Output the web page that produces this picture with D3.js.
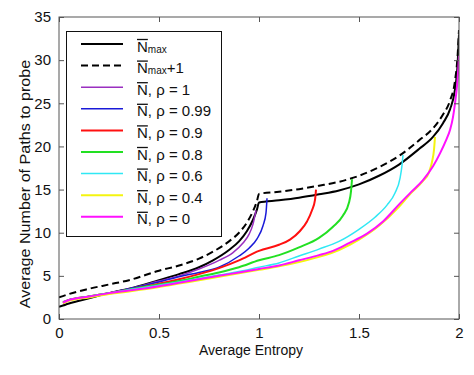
<!DOCTYPE html>
<html>
<head>
<meta charset="utf-8">
<script src="https://cdn.jsdelivr.net/npm/d3@7"></script>
<style>
  body { margin: 0; background: #fff; }
  svg { display: block; font-family: "Liberation Sans", Arial, sans-serif; }
</style>
</head>
<body>
<div class="container"></div>
<script>
// Nmax and Nmax+1 share the same entropy grid
const xMax = [0, 0.05, 0.15, 0.25, 0.35, 0.5, 0.6, 0.7, 0.77, 0.85, 0.9, 0.94, 0.97, 0.99, 1.0, 1.1, 1.2, 1.3, 1.4, 1.5, 1.6, 1.7, 1.8, 1.87, 1.92, 1.955, 1.98, 1.993, 2.0];
const yMax = [1.4, 1.8, 2.4, 3.0, 3.5, 4.5, 5.2, 6.0, 6.8, 8.0, 9.0, 10.2, 11.5, 12.7, 13.5, 13.75, 14.05, 14.45, 14.9, 15.6, 16.6, 17.9, 19.7, 21.1, 22.7, 24.3, 26.6, 29.5, 33];
const yMaxPlus1 = [2.5, 2.9, 3.5, 4.0, 4.5, 5.6, 6.2, 7.0, 7.8, 9.0, 10.0, 11.2, 12.5, 13.7, 14.5, 14.75, 15.05, 15.45, 15.9, 16.6, 17.6, 18.9, 20.7, 22.1, 23.7, 25.3, 27.6, 30.5, 33.5];

const xRho1 = [0.02, 0.05, 0.15, 0.25, 0.35, 0.5, 0.6, 0.7, 0.8, 0.87, 0.92, 0.95, 0.97, 0.985];
const yRho1 = [2.0, 2.2, 2.6, 3.0, 3.5, 4.4, 5.0, 5.8, 6.8, 7.7, 8.8, 9.8, 11.0, 12.6];

const xRho099 = [0.02, 0.05, 0.15, 0.25, 0.35, 0.5, 0.6, 0.7, 0.8, 0.9, 0.95, 0.99, 1.02, 1.035, 1.04];
const yRho099 = [1.9, 2.2, 2.6, 3.0, 3.5, 4.3, 4.9, 5.4, 6.0, 7.3, 8.2, 9.3, 10.8, 12.3, 14.0];

const xRho09 = [0.02, 0.05, 0.15, 0.25, 0.35, 0.5, 0.6, 0.7, 0.8, 0.9, 1.0, 1.1, 1.155, 1.205, 1.24, 1.265, 1.28, 1.285];
const yRho09 = [1.9, 2.2, 2.6, 3.0, 3.4, 4.1, 4.6, 5.2, 5.9, 6.8, 7.9, 8.6, 9.2, 10.2, 11.3, 12.6, 13.8, 15.0];

const xRho08 = [0.02, 0.05, 0.15, 0.25, 0.35, 0.5, 0.6, 0.7, 0.8, 0.9, 1.0, 1.1, 1.2, 1.3, 1.37, 1.42, 1.45, 1.46, 1.465];
const yRho08 = [1.9, 2.2, 2.6, 3.0, 3.4, 4.0, 4.4, 4.9, 5.4, 6.0, 6.8, 7.4, 8.3, 9.4, 10.7, 12.0, 13.5, 14.8, 16.2];

const xRho06 = [0.02, 0.05, 0.15, 0.25, 0.35, 0.5, 0.6, 0.7, 0.8, 0.9, 1.0, 1.1, 1.2, 1.3, 1.4, 1.5, 1.58, 1.64, 1.68, 1.705, 1.715, 1.72];
const yRho06 = [1.9, 2.2, 2.6, 3.0, 3.4, 3.9, 4.3, 4.7, 5.1, 5.5, 6.0, 6.5, 7.3, 8.1, 9.0, 10.4, 11.8, 13.2, 14.6, 16.3, 17.8, 19.0];

const xRho04 = [0.02, 0.05, 0.15, 0.25, 0.35, 0.5, 0.6, 0.7, 0.8, 0.9, 1.0, 1.1, 1.2, 1.3, 1.4, 1.5, 1.6, 1.7, 1.76, 1.82, 1.85, 1.865, 1.875, 1.88];
const yRho04 = [1.8, 2.1, 2.5, 2.9, 3.2, 3.7, 4.1, 4.5, 4.9, 5.3, 5.7, 6.1, 6.6, 7.2, 8.0, 9.2, 10.8, 13.0, 14.6, 16.0, 17.0, 18.2, 19.6, 21.1];

const xRho0 = [0.02, 0.05, 0.15, 0.25, 0.35, 0.5, 0.6, 0.7, 0.8, 0.9, 1.0, 1.1, 1.2, 1.3, 1.37, 1.45, 1.54, 1.62, 1.705, 1.76, 1.82, 1.87, 1.905, 1.935, 1.955, 1.97, 1.98, 1.99, 1.997, 2.0];
const yRho0 = [1.9, 2.2, 2.6, 3.0, 3.3, 3.8, 4.2, 4.6, 5.0, 5.4, 5.8, 6.2, 6.8, 7.4, 7.9, 8.8, 9.9, 11.3, 13.4, 14.7, 16.1, 17.7, 19.2, 20.7, 21.9, 23.4, 25.0, 27.0, 29.2, 30.5];

const xTicks = [0, 0.5, 1, 1.5, 2];
const yTicks = [0, 5, 10, 15, 20, 25, 30, 35];

// legend label = "N" with overbar + optional subscript + tail
const series = [
  { x: xMax, y: yMax, color: "#000", width: 2, dash: null, sub: "max", tail: "" },
  { x: xMax, y: yMaxPlus1, color: "#000", width: 2, dash: "7,4", sub: "max", tail: "+1" },
  { x: xRho1, y: yRho1, color: "#9a2fc0", width: 1.5, dash: null, sub: "", tail: ", ρ = 1" },
  { x: xRho099, y: yRho099, color: "#1a1ad8", width: 1.5, dash: null, sub: "", tail: ", ρ = 0.99" },
  { x: xRho09, y: yRho09, color: "#ff1010", width: 2, dash: null, sub: "", tail: ", ρ = 0.9" },
  { x: xRho08, y: yRho08, color: "#22e022", width: 2, dash: null, sub: "", tail: ", ρ = 0.8" },
  { x: xRho06, y: yRho06, color: "#30e8f4", width: 1.5, dash: null, sub: "", tail: ", ρ = 0.6" },
  { x: xRho04, y: yRho04, color: "#f4f410", width: 2, dash: null, sub: "", tail: ", ρ = 0.4" },
  { x: xRho0, y: yRho0, color: "#ff10ff", width: 2, dash: null, sub: "", tail: ", ρ = 0" }
];

const width = 474, height = 375;
const m = { left: 59, right: 459, top: 17, bottom: 319 };

const svg = d3.select(".container").append("svg")
  .attr("width", width)
  .attr("height", height);

const x = d3.scaleLinear().domain([0, 2]).range([m.left, m.right]);
const y = d3.scaleLinear().domain([0, 35]).range([m.bottom, m.top]);

// curves
const line = d3.line()
  .x(d => x(d[0]))
  .y(d => y(d[1]))
  .curve(d3.curveMonotoneX);

svg.append("defs").append("clipPath").attr("id", "plotclip")
  .append("rect").attr("x", m.left).attr("y", m.top)
  .attr("width", m.right - m.left).attr("height", m.bottom - m.top);

const plot = svg.append("g").attr("clip-path", "url(#plotclip)");
series.forEach(s => {
  plot.append("path")
    .attr("d", line(s.x.map((v, i) => [v, s.y[i]])))
    .attr("fill", "none")
    .attr("stroke", s.color)
    .attr("stroke-width", s.width)
    .attr("stroke-dasharray", s.dash)
    .attr("stroke-linejoin", "round");
});

// axes, ticks pointing inward on all four sides
const axisColor = "#555";
function styleAxis(g) {
  g.selectAll(".domain").remove();
  g.selectAll(".tick line").attr("stroke", axisColor);
  g.selectAll(".tick text").attr("fill", "#111").attr("font-size", 15)
    .attr("font-family", "'Liberation Sans', Arial, sans-serif");
}

svg.append("g").attr("transform", `translate(0,${m.bottom})`)
  .call(d3.axisBottom(x).tickValues(xTicks).tickFormat(d3.format("")).tickSizeInner(-5).tickSizeOuter(0).tickPadding(8))
  .call(styleAxis);
svg.append("g").attr("transform", `translate(0,${m.top})`)
  .call(d3.axisTop(x).tickValues(xTicks).tickFormat("").tickSizeInner(-5).tickSizeOuter(0))
  .call(styleAxis);
svg.append("g").attr("transform", `translate(${m.left},0)`)
  .call(d3.axisLeft(y).tickValues(yTicks).tickSizeInner(-5).tickSizeOuter(0).tickPadding(8))
  .call(styleAxis);
svg.append("g").attr("transform", `translate(${m.right},0)`)
  .call(d3.axisRight(y).tickValues(yTicks).tickFormat("").tickSizeInner(-5).tickSizeOuter(0))
  .call(styleAxis);

svg.append("rect")
  .attr("x", m.left).attr("y", m.top)
  .attr("width", m.right - m.left).attr("height", m.bottom - m.top)
  .attr("fill", "none").attr("stroke", axisColor).attr("stroke-width", 1);

// axis titles
svg.append("text")
  .attr("x", 251).attr("y", 355)
  .attr("text-anchor", "middle")
  .attr("font-size", 14)
  .attr("fill", "#111")
  .text("Average Entropy");

svg.append("text")
  .attr("transform", "translate(30,184) rotate(-90) scale(1.15,1)")
  .attr("text-anchor", "middle")
  .attr("font-size", 14)
  .attr("fill", "#111")
  .text("Average Number of Paths to probe");

// legend
const legend = svg.append("g");
legend.append("rect")
  .attr("x", 66.5).attr("y", 31.5)
  .attr("width", 155).attr("height", 205)
  .attr("fill", "#fff").attr("stroke", "#111").attr("stroke-width", 1);

series.forEach((s, i) => {
  const ry = 44 + i * 21.6;
  legend.append("line")
    .attr("x1", 81).attr("x2", 123)
    .attr("y1", ry).attr("y2", ry)
    .attr("stroke", s.color)
    .attr("stroke-width", s.width)
    .attr("stroke-dasharray", s.dash);

  const t = legend.append("text")
    .attr("x", 137).attr("y", ry + 7.5)
    .attr("font-size", 15)
    .attr("fill", "#111");
  const n = t.append("tspan").text("N");
  const nw = n.node().getComputedTextLength();
  if (s.sub) {
    t.append("tspan").attr("font-size", 10).attr("dy", 1).text(s.sub);
    if (s.tail) t.append("tspan").attr("dy", -1).text(s.tail);
  } else {
    t.append("tspan").text(s.tail);
  }
  legend.append("line")
    .attr("x1", 137).attr("x2", 137 + nw)
    .attr("y1", ry - 4.5).attr("y2", ry - 4.5)
    .attr("stroke", "#111").attr("stroke-width", 1.3);
});
</script>
</body>
</html>
